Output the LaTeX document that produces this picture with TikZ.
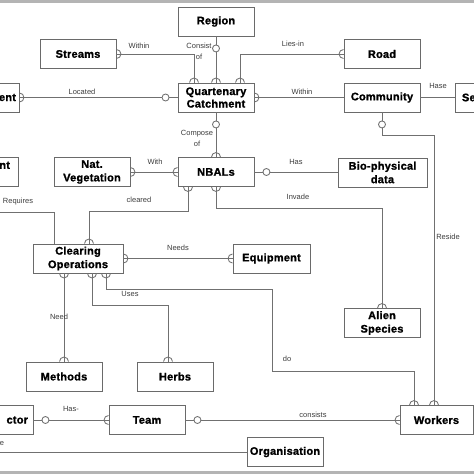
\documentclass[tikz,border=0pt]{standalone}
\usepackage{fontspec}
\setmainfont{Liberation Sans}
\newfontfamily\boxfont{Liberation Sans Bold}[FakeBold=1.2, LetterSpace=2]
\definecolor{boxc}{HTML}{6A6A6A}
\definecolor{linec}{HTML}{707070}
\definecolor{lblc}{HTML}{3C3C3C}
\definecolor{barc}{HTML}{B4B4B4}
\newcommand\cfN[1]{\draw[conn] (#1) ++(4.5pt,0) arc[start angle=0,end angle=180,radius=4.5pt];}
\newcommand\cfS[1]{\draw[conn] (#1) ++(4.5pt,0) arc[start angle=0,end angle=-180,radius=4.5pt];}
\newcommand\cfE[1]{\draw[conn] (#1) ++(0,4.5pt) arc[start angle=90,end angle=-90,radius=4.5pt];}
\newcommand\cfW[1]{\draw[conn] (#1) ++(0,4.5pt) arc[start angle=90,end angle=270,radius=4.5pt];}
\newcommand\oc[1]{\draw[conn,fill=white] (#1) circle[radius=3.5pt];}
\begin{document}
\begin{tikzpicture}[x=1pt,y=-1pt,
  box/.style={draw=boxc, line width=0.9pt, fill=white, minimum width=76pt, minimum height=29pt,
    inner sep=1pt, font=\fontsize{11}{13.5}\selectfont\boxfont, align=center},
  lbl/.style={font=\fontsize{7.5}{10}\selectfont, text=lblc, inner sep=0pt, align=center},
  conn/.style={draw=linec, line width=0.85pt}]
\useasboundingbox (0,0) rectangle (474,474);
\fill[barc] (0,0) rectangle (474,2.5);
\fill[barc] (0,471) rectangle (474,474);

\node[box] (region) at (216,21.5) {Region};
\node[box] (streams) at (78,54) {Streams};
\node[box] (road) at (382,54) {Road};
\node[box, font=\fontsize{11}{12.5}\selectfont\boxfont] (qc) at (216,97.5) {Quartenary\\Catchment};
\node[box, text width=70pt, align=right] (enta) at (-19,97.5) {ent};
\node[box] (comm) at (382,97.5) {Community};
\node[box, text width=62pt, align=left] (se) at (493,97.5) {Se};
\node[box] (natveg) at (92,172) {Nat.\\Vegetation};
\node[box] (nbals) at (216,172) {NBALs};
\node[box, text width=60pt, align=right] (entb) at (-20,172) {ent\\~};
\node[box, minimum width=89pt] (bio) at (382.5,172.5) {Bio-physical\\data};
\node[box, minimum width=90pt] (clearing) at (78,258.5) {Clearing\\Operations};
\node[box, minimum width=77pt] (equip) at (271.5,258.5) {Equipment};
\node[box] (alien) at (382,323) {Alien\\Species};
\node[box] (methods) at (64,376.5) {Methods};
\node[box] (herbs) at (175,376.5) {Herbs};
\node[box, text width=66pt, align=right] (ctor) at (-5,420) {ctor};
\node[box] (team) at (147,420) {Team};
\node[box, minimum width=73pt] (workers) at (436.5,420) {Workers};
\node[box] (org) at (285,452) {Organisation};

\coordinate (reqL) at (0,212);
\coordinate (orgL) at (0,452);

% lines
\draw[conn] (streams.east) -| ([xshift=-22pt]qc.north);
\draw[conn] (region) -- (qc);
\draw[conn] (road.west) -| ([xshift=24pt]qc.north);
\draw[conn] (enta.east) -- (qc.west);
\draw[conn] (qc) -- (comm);
\draw[conn] (comm) -- (se);
\draw[conn] (qc) -- (nbals);
\draw[conn] (natveg) -- (nbals);
\draw[conn] (nbals.east) -- (nbals.east -| bio.west);
\draw[conn] (nbals.south) -- ++(0,21) -| (alien.north);
\draw[conn] ([xshift=-28pt]nbals.south) -- ++(0,24) -| ([xshift=11pt]clearing.north);
\draw[conn] (reqL) -| ([xshift=-24pt]clearing.north);
\draw[conn] (clearing.east) -- (clearing.east -| equip.west);
\draw[conn] ([xshift=-14pt]clearing.south) -- (methods.north);
\draw[conn] ([xshift=14pt]clearing.south) -- ++(0,32) -| ([xshift=-7pt]herbs.north);
\draw[conn] ([xshift=28pt]clearing.south) -- ++(0,16) -| (272,371) -| ([xshift=-22.5pt]workers.north);
\draw[conn] (comm.south) -- ++(0,23) -| ([xshift=-2.5pt]workers.north);
\draw[conn] (ctor.east) -- (team.west);
\draw[conn] (team) -- (workers);
\draw[conn] (orgL) -- (org.west);

% crow's feet
\cfE{streams.east}
\cfN{[xshift=-22pt]qc.north}
\cfN{qc.north}
\cfN{[xshift=24pt]qc.north}
\cfW{road.west}
\cfE{enta.east}
\cfE{qc.east}
\cfN{nbals.north}
\cfE{natveg.east}
\cfW{nbals.west}
\cfS{nbals.south}
\cfN{alien.north}
\cfS{[xshift=-28pt]nbals.south}
\cfN{[xshift=11pt]clearing.north}
\cfE{clearing.east}
\cfW{equip.west}
\cfS{[xshift=-14pt]clearing.south}
\cfN{methods.north}
\cfS{[xshift=14pt]clearing.south}
\cfN{[xshift=-7pt]herbs.north}
\cfS{[xshift=28pt]clearing.south}
\cfN{[xshift=-22.5pt]workers.north}
\cfN{[xshift=-2.5pt]workers.north}
\cfW{team.west}
\cfW{workers.west}

% circles
\oc{[yshift=-12pt]region.south}
\oc{[xshift=-12pt]qc.west}
\oc{[yshift=-12pt]qc.south}
\oc{[xshift=12pt]nbals.east}
\oc{[yshift=-12pt]comm.south}
\oc{[xshift=12pt]ctor.east}
\oc{[xshift=12pt]team.east}

% labels
\node[lbl] (l1) at (139,46) {Within};
\node[lbl, font=\fontsize{7.5}{11}\selectfont] (l2) at (199,51) {Consist\\of};
\node[lbl] (l3) at (293,44) {Lies-in};
\node[lbl] (l4) at (82,92) {Located};
\node[lbl] (l5) at (302,92) {Within};
\node[lbl] (l6) at (438,86) {Hase};
\node[lbl, font=\fontsize{7.5}{11}\selectfont] (l7) at (197,138) {Compose\\of};
\node[lbl] (l8) at (155,162) {With};
\node[lbl] (l9) at (296,162) {Has};
\node[lbl] (l10) at (298,197) {Invade};
\node[lbl] (l11) at (139,200) {cleared};
\node[lbl] (l12) at (18,202) {Requires};
\node[lbl] (l13) at (178,248) {Needs};
\node[lbl] (l14) at (130,294) {Uses};
\node[lbl] (l15) at (59,317) {Need};
\node[lbl] (l16) at (287,359) {do};
\node[lbl] (l17) at (448,237) {Reside};
\node[lbl] (l18) at (71,409) {Has-};
\node[lbl] (l19) at (313,415) {consists};
\node[lbl] (l20) at (2,444) {e};
\end{tikzpicture}
\end{document}
